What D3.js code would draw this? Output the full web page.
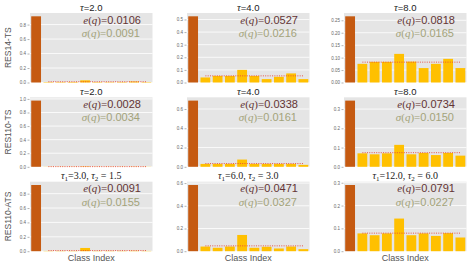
<!DOCTYPE html>
<html><head><meta charset="utf-8">
<script src="https://cdn.jsdelivr.net/npm/d3@7"></script>
<style>body{margin:0;background:#fff}svg{display:block}</style>
</head><body>
<svg id="c" width="474" height="264"></svg>
<script>
// ---- data ----
const rowLabels = ["RES14-TS", "RES110-TS", "RES110-ATS"];
const classes = d3.range(10);
// panel values (row, col)
const res14_tau2 = [0.914, 0.006, 0.006, 0.007, 0.030, 0.006, 0.005, 0.006, 0.014, 0.006];
const res14_tau4 = [0.525, 0.040, 0.052, 0.052, 0.100, 0.052, 0.027, 0.045, 0.072, 0.027];
const res14_tau8 = [0.266, 0.075, 0.083, 0.083, 0.115, 0.084, 0.058, 0.075, 0.095, 0.058];
const res110_tau2 = [0.975, 0.002, 0.002, 0.002, 0.006, 0.002, 0.002, 0.002, 0.003, 0.002];
const res110_tau4 = [0.687, 0.030, 0.030, 0.030, 0.075, 0.030, 0.030, 0.030, 0.030, 0.020];
const res110_tau8 = [0.344, 0.070, 0.065, 0.070, 0.114, 0.065, 0.072, 0.061, 0.072, 0.058];
const ats_3_15 = [0.920, 0.004, 0.004, 0.004, 0.045, 0.004, 0.004, 0.004, 0.006, 0.004];
const ats_6_3 = [0.583, 0.041, 0.030, 0.041, 0.143, 0.030, 0.039, 0.024, 0.041, 0.018];
const ats_12_6 = [0.290, 0.078, 0.070, 0.078, 0.143, 0.070, 0.078, 0.067, 0.079, 0.060];
const panelValues = [[res14_tau2, res14_tau4, res14_tau8],
                     [res110_tau2, res110_tau4, res110_tau8],
                     [ats_3_15, ats_6_3, ats_12_6]];
const eVals = [[0.0106, 0.0527, 0.0818], [0.0028, 0.0338, 0.0734], [0.0091, 0.0471, 0.0791]];
const sigmaVals = [[0.0091, 0.0216, 0.0165], [0.0034, 0.0161, 0.0150], [0.0155, 0.0327, 0.0227]];
const tau1 = [["2.0", "4.0", "8.0"], ["2.0", "4.0", "8.0"], ["3.0", "6.0", "12.0"]];
const tau2 = [null, null, ["1.5", "3.0", "6.0"]];
const yTicks = [[[0, 0.2, 0.4, 0.6, 0.8], [0, 0.1, 0.2, 0.3, 0.4, 0.5], [0, 0.05, 0.10, 0.15, 0.20, 0.25]],
                [[0, 0.2, 0.4, 0.6, 0.8, 1.0], [0, 0.2, 0.4, 0.6], [0, 0.1, 0.2, 0.3]],
                [[0, 0.2, 0.4, 0.6, 0.8], [0, 0.2, 0.4, 0.6], [0, 0.1, 0.2, 0.3]]];
const tickFmt = [[".1f", ".1f", ".2f"], [".1f", ".1f", ".1f"], [".1f", ".1f", ".1f"]];
const xLabel = "Class Index";

// ---- layout ----
const colLeft = [30, 187, 344], pw = 122.5;
const rowTop = [13, 97.3, 181.7], ph = 69.5;
const sans = "'Liberation Sans', Arial, sans-serif";
const serif = "'Liberation Serif', 'Times New Roman', serif";
const svg = d3.select("#c");

for (let r = 0; r < 3; r++) {
  for (let c = 0; c < 3; c++) {
    const vals = panelValues[r][c];
    const x = d3.scaleLinear().domain([-0.5, 9.5]).range([colLeft[c], colLeft[c] + pw]);
    const y = d3.scaleLinear().domain([0, d3.max(vals) * 1.05]).range([rowTop[r] + ph, rowTop[r]]);
    const g = svg.append("g");
    g.append("rect").attr("x", colLeft[c]).attr("y", rowTop[r]).attr("width", pw).attr("height", ph).attr("fill", "#e5e5e5");
    // grid
    g.selectAll(".grid").data(yTicks[r][c]).join("line")
      .attr("x1", colLeft[c]).attr("x2", colLeft[c] + pw)
      .attr("y1", d => y(d)).attr("y2", d => y(d))
      .attr("stroke", "#fff").attr("stroke-width", 0.8);
    // y axis
    const ax = d3.axisLeft(y).tickValues(yTicks[r][c]).tickFormat(d3.format(tickFmt[r][c])).tickSize(2).tickPadding(1.5);
    const axg = g.append("g").attr("transform", `translate(${colLeft[c] - 0.5},0)`).call(ax);
    axg.select(".domain").remove();
    axg.selectAll("line").attr("stroke", "#666").attr("stroke-width", 0.5);
    axg.selectAll("text").attr("font-size", 4.5).attr("font-family", sans).attr("fill", "#666");
    // bars
    g.selectAll(".bar").data(classes).join("rect")
      .attr("x", d => x(d - 0.4)).attr("width", x(0.8) - x(0))
      .attr("y", d => y(vals[d])).attr("height", d => y(0) - y(vals[d]))
      .attr("fill", d => d === 0 ? "#c55a11" : "#ffc000");
    // mean dotted line
    g.append("line").attr("x1", x(1)).attr("x2", x(9))
      .attr("y1", y(eVals[r][c])).attr("y2", y(eVals[r][c]))
      .attr("stroke", "#e8463a").attr("stroke-width", 0.9).attr("stroke-dasharray", "1,1.3");
    // title
    const cx = colLeft[c] + pw / 2;
    const t = g.append("text").attr("x", cx).attr("y", rowTop[r] - 2.5).attr("text-anchor", "middle").attr("fill", "#222");
    if (tau2[r] === null) {
      t.attr("font-size", 9.5);
      t.append("tspan").attr("font-family", serif).attr("font-style", "italic").attr("font-size", 10.5).text("τ");
      t.append("tspan").attr("font-family", sans).text("=" + tau1[r][c]);
    } else {
      t.attr("font-size", 10).attr("font-family", serif);
      t.append("tspan").attr("font-style", "italic").text("τ");
      t.append("tspan").attr("font-size", 7).attr("dy", 1.5).text("1");
      t.append("tspan").attr("dy", -1.5).text("=" + tau1[r][c] + ", ");
      t.append("tspan").attr("font-style", "italic").text("τ");
      t.append("tspan").attr("font-size", 7).attr("dy", 1.5).text("2");
      t.append("tspan").attr("dy", -1.5).text("\u00a0=\u00a0" + tau2[r][c]);
    }
    // annotations
    const ax0 = colLeft[c] + pw * 0.435;
    const e = g.append("text").attr("x", ax0).attr("y", rowTop[r] + 10.7).attr("font-size", 11).attr("fill", "#633434");
    e.append("tspan").attr("font-family", serif).attr("font-style", "italic").text("e");
    e.append("tspan").attr("font-family", serif).text("(");
    e.append("tspan").attr("font-family", serif).attr("font-style", "italic").text("q");
    e.append("tspan").attr("font-family", serif).text(")=");
    e.append("tspan").attr("font-family", sans).text(eVals[r][c].toFixed(4));
    const s = g.append("text").attr("x", ax0 - 1.5).attr("y", rowTop[r] + 24).attr("font-size", 11).attr("fill", "#a3a37a");
    s.append("tspan").attr("font-family", serif).attr("font-style", "italic").text("σ");
    s.append("tspan").attr("font-family", serif).text("(");
    s.append("tspan").attr("font-family", serif).attr("font-style", "italic").text("q");
    s.append("tspan").attr("font-family", serif).text(")=");
    s.append("tspan").attr("font-family", sans).text(sigmaVals[r][c].toFixed(4));
    if (r === 2) {
      g.append("text").attr("x", cx).attr("y", rowTop[r] + ph + 9.5).attr("text-anchor", "middle")
        .attr("font-size", 9).attr("font-family", sans).attr("fill", "#555").text(xLabel);
    }
  }
  svg.append("text").attr("transform", `translate(10.5,${rowTop[r] + ph / 2}) rotate(-90)`)
    .attr("text-anchor", "middle").attr("font-size", 8.5).attr("font-family", sans).attr("fill", "#555").text(rowLabels[r]);
}
</script>
</body></html>
